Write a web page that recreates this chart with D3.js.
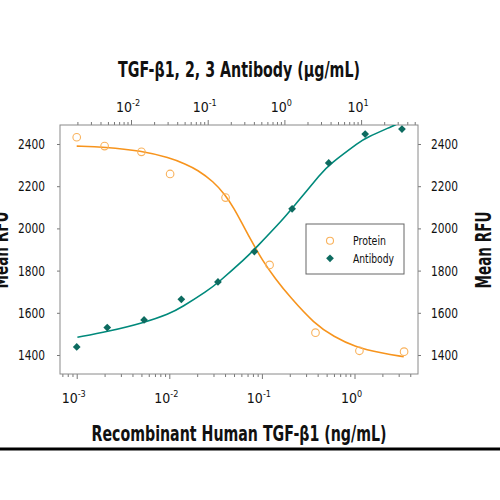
<!DOCTYPE html>
<html>
<head>
<meta charset="utf-8">
<script src="https://cdn.jsdelivr.net/npm/d3@7"></script>
<style>
  body { margin: 0; background: #fff; }
  svg { display: block; }
  text { font-family: "Liberation Sans Narrow", "DejaVu Sans Condensed", sans-serif; fill: #111; }
</style>
</head>
<body>
<svg id="chart" width="500" height="500"></svg>
<script>
// protein (bottom axis, ng/mL) - open orange circles
const proteinConc = [0.001, 0.002, 0.005, 0.0102, 0.0405, 0.121, 0.379, 1.13, 3.43];
const proteinRFU = [2432, 2390, 2363, 2258, 2146, 1827, 1506, 1420, 1416];
// antibody (top axis, ug/mL) - teal diamonds
const antibodyConc = [0.00196, 0.0049, 0.0148, 0.0453, 0.136, 0.406, 1.26, 3.78, 11.3, 34.1];
const antibodyRFU = [1438, 1530, 1566, 1664, 1746, 1890, 2093, 2310, 2447, 2471];

// fitted curves
const proteinFitConc = [0.001, 0.002, 0.005, 0.01, 0.015, 0.02, 0.03, 0.04, 0.05, 0.06, 0.08, 0.1, 0.14, 0.2, 0.37, 0.6, 1.0, 2.0, 3.4];
const proteinFitRFU = [2390, 2386, 2368, 2335, 2305, 2278, 2222, 2160, 2095, 2030, 1928, 1852, 1760, 1676, 1547, 1487, 1439, 1408, 1392];
const antibodyFitConc = [0.002, 0.005, 0.0148, 0.0316, 0.0453, 0.1, 0.136, 0.316, 0.406, 1.0, 1.26, 3.16, 3.78, 10, 11.3, 27.7, 34];
const antibodyFitRFU = [1484, 1511, 1553, 1595, 1625, 1705, 1742, 1860, 1900, 2050, 2095, 2270, 2300, 2415, 2427, 2490, 2505];

const yTicks = [1400, 1600, 1800, 2000, 2200, 2400];
const bottomExponents = [-3, -2, -1, 0];
const topExponents = [-2, -1, 0, 1];

const orange = "#f7941d", orangeLight = "#f9b25c";
const teal = "#00897b", tealDark = "#0d6b60";

const svg = d3.select("#chart");
const plotLeft = 60, plotRight = 418, plotTop = 125, plotBottom = 374;

const x = d3.scaleLog().domain([0.00066, 4.85]).range([plotLeft, plotRight]);
const xTop = d3.scaleLog().domain([0.001186, 55.2]).range([plotLeft, plotRight]);
const y = d3.scaleLinear().domain([1310, 2490]).range([plotBottom, plotTop]);

function logTicks(scale) {
  const [a, b] = scale.domain();
  const out = [];
  for (let e = -5; e <= 3; e++) {
    for (let m = 1; m <= 9; m++) {
      const v = m * Math.pow(10, e);
      if (v >= a && v <= b) out.push(v);
    }
  }
  return out;
}
const isMajor = v => Math.abs(Math.log10(v) - Math.round(Math.log10(v))) < 1e-9;

svg.append("defs").append("clipPath").attr("id", "plot-clip")
  .append("rect").attr("x", plotLeft).attr("y", plotTop)
  .attr("width", plotRight - plotLeft).attr("height", plotBottom - plotTop);

// axes
const axisBottom = svg.append("g").attr("transform", `translate(0,${plotBottom})`)
  .call(d3.axisBottom(x).tickValues(logTicks(x)).tickFormat("").tickSizeOuter(0));
const axisTop = svg.append("g").attr("transform", `translate(0,${plotTop})`)
  .call(d3.axisTop(xTop).tickValues(logTicks(xTop)).tickFormat("").tickSizeOuter(0));
const axisLeft = svg.append("g").attr("transform", `translate(${plotLeft},0)`)
  .call(d3.axisLeft(y).tickValues(yTicks).tickFormat(d3.format("d")).tickSize(3).tickPadding(12).tickSizeOuter(0));
const axisRight = svg.append("g").attr("transform", `translate(${plotRight},0)`)
  .call(d3.axisRight(y).tickValues(yTicks).tickFormat(d3.format("d")).tickSize(3).tickPadding(10).tickSizeOuter(0));

[axisBottom, axisTop, axisLeft, axisRight].forEach(g => {
  g.select(".domain").remove();
  g.selectAll(".tick line").attr("stroke", "#777");
});
[axisLeft, axisRight].forEach(g => {
  g.selectAll(".tick text")
    .attr("font-size", 14).attr("fill", "#111")
    .attr("font-family", "'Liberation Sans Narrow', 'DejaVu Sans Condensed', sans-serif")
    .attr("textLength", 27).attr("lengthAdjust", "spacingAndGlyphs");
});
axisBottom.selectAll(".tick line").attr("y2", d => isMajor(d) ? 5 : 3);
axisTop.selectAll(".tick line").attr("y2", d => isMajor(d) ? -5 : -3);

function powerLabel(g, scale, exps, yPos) {
  exps.forEach(e => {
    const t = g.append("text")
      .attr("x", scale(Math.pow(10, e)) - 3)
      .attr("y", yPos)
      .attr("text-anchor", "middle")
      .attr("font-size", 14);
    t.append("tspan").text("10");
    t.append("tspan").attr("dy", -6).attr("font-size", 9).text(e);
  });
}
powerLabel(svg.append("g"), x, bottomExponents, 403);
powerLabel(svg.append("g"), xTop, topExponents, 112);

// frame
svg.append("rect")
  .attr("x", plotLeft).attr("y", plotTop)
  .attr("width", plotRight - plotLeft).attr("height", plotBottom - plotTop)
  .attr("fill", "none").attr("stroke", "#8a8a8a").attr("stroke-width", 1);

// fit lines
const plot = svg.append("g").attr("clip-path", "url(#plot-clip)");

const proteinFit = proteinFitConc.map((c, i) => [c, proteinFitRFU[i]]);
const antibodyFit = antibodyFitConc.map((c, i) => [c, antibodyFitRFU[i]]);

plot.append("path")
  .datum(proteinFit)
  .attr("d", d3.line().x(d => x(d[0])).y(d => y(d[1])).curve(d3.curveBasis))
  .attr("fill", "none").attr("stroke", orange).attr("stroke-width", 1.6);

plot.append("path")
  .datum(antibodyFit)
  .attr("d", d3.line().x(d => xTop(d[0])).y(d => y(d[1])).curve(d3.curveBasis))
  .attr("fill", "none").attr("stroke", teal).attr("stroke-width", 1.6);

// points
svg.append("g").selectAll("circle")
  .data(proteinConc.map((c, i) => [c, proteinRFU[i]]))
  .join("circle")
  .attr("cx", d => x(d[0])).attr("cy", d => y(d[1])).attr("r", 3.8)
  .attr("fill", "none").attr("stroke", orangeLight).attr("stroke-width", 1.1);

const diamond = d3.symbol(d3.symbolSquare, 30);
svg.append("g").selectAll("path")
  .data(antibodyConc.map((c, i) => [c, antibodyRFU[i]]))
  .join("path")
  .attr("d", diamond)
  .attr("transform", d => `translate(${xTop(d[0])},${y(d[1])}) rotate(45)`)
  .attr("fill", tealDark);

// legend
const legend = svg.append("g").attr("transform", "translate(306,224)");
legend.append("rect").attr("width", 98).attr("height", 50)
  .attr("fill", "#fff").attr("stroke", "#666").attr("stroke-width", 1);
legend.append("circle").attr("cx", 24).attr("cy", 16.7).attr("r", 3.5)
  .attr("fill", "none").attr("stroke", orangeLight).attr("stroke-width", 1.1);
legend.append("path").attr("d", diamond)
  .attr("transform", "translate(24,34.3) rotate(45)").attr("fill", tealDark);
legend.append("text").attr("x", 47).attr("y", 21).attr("font-size", 12.5)
  .attr("textLength", 33).attr("lengthAdjust", "spacingAndGlyphs").text("Protein");
legend.append("text").attr("x", 47).attr("y", 38.5).attr("font-size", 12.5)
  .attr("textLength", 41).attr("lengthAdjust", "spacingAndGlyphs").text("Antibody");

// titles
svg.append("text")
  .attr("x", 239).attr("y", 77).attr("text-anchor", "middle")
  .attr("font-size", 21).attr("font-weight", "bold")
  .attr("textLength", 242).attr("lengthAdjust", "spacingAndGlyphs")
  .text("TGF-β1, 2, 3 Antibody (µg/mL)");

svg.append("text")
  .attr("x", 239).attr("y", 441).attr("text-anchor", "middle")
  .attr("font-size", 21).attr("font-weight", "bold")
  .attr("textLength", 295).attr("lengthAdjust", "spacingAndGlyphs")
  .text("Recombinant Human TGF-β1 (ng/mL)");

svg.append("text")
  .attr("transform", "translate(491,250) rotate(-90)")
  .attr("text-anchor", "middle")
  .attr("font-size", 22).attr("font-weight", "bold")
  .attr("textLength", 77).attr("lengthAdjust", "spacingAndGlyphs")
  .text("Mean RFU");

// cut by the left edge, as in the original
svg.append("text")
  .attr("transform", "translate(8,250) rotate(-90)")
  .attr("text-anchor", "middle")
  .attr("font-size", 22).attr("font-weight", "bold")
  .attr("textLength", 77).attr("lengthAdjust", "spacingAndGlyphs")
  .text("Mean RFU");

// bottom rule
svg.append("line")
  .attr("x1", 0).attr("x2", 500).attr("y1", 449).attr("y2", 449)
  .attr("stroke", "#000").attr("stroke-width", 3);
</script>
</body>
</html>
